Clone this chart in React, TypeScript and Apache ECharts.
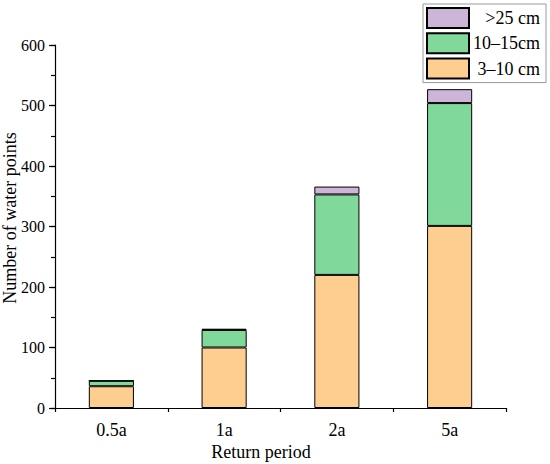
import * as echarts from "echarts";
import { useEffect, useRef } from "react";

const categories = ["0.5a", "1a", "2a", "5a"];
const small = [36, 100, 220, 301]; // 3–10 cm
const medium = [9, 29, 133, 203]; // 10–15cm
const large = [0, 2, 13, 23]; // >25 cm
const legendOrder = [">25 cm", "10–15cm", "3–10 cm"];
const yRange = { min: 0, max: 600 };
const yMajor = 100;
const yMinor = 50;

const FONT = "Liberation Serif";
const AX = { color: "#000", width: 1.2 };

export default function App() {
  const ref = useRef<HTMLDivElement>(null);

  useEffect(() => {
    if (!ref.current) return;
    const chart = echarts.init(ref.current, undefined, { renderer: "svg" });

    const bar = (name: string, data: number[], color: string) => ({
      name,
      type: "bar",
      stack: "total",
      barWidth: "40%",
      data,
      itemStyle: { color, borderColor: "#000", borderWidth: 1 },
    });

    chart.setOption({
      animation: false,
      backgroundColor: "#fff",
      textStyle: { fontFamily: FONT, color: "#000" },
      grid: { left: 55, right: 44, top: 45, bottom: 56 },
      legend: {
        data: legendOrder,
        orient: "vertical",
        left: 423,
        top: 4,
        itemWidth: 42,
        itemHeight: 20,
        itemGap: 3.3,
        padding: [3, 6, 3, 3],
        borderColor: "#999",
        borderWidth: 1,
        icon: "rect",
        formatter: (n: string) => `{r|${n}}`,
        textStyle: {
          fontFamily: FONT,
          fontSize: 18,
          color: "#000",
          rich: {
            r: { width: 66, align: "right", fontFamily: FONT, fontSize: 18, color: "#000" },
          },
        },
      },
      xAxis: [
        {
          type: "category",
          data: categories,
          axisLine: { lineStyle: AX },
          axisTick: { alignWithLabel: true, length: 6, lineStyle: AX },
          axisLabel: { color: "#000", fontSize: 18, fontFamily: FONT, margin: 13 },
        },
        {
          // short ticks at category boundaries
          type: "category",
          data: categories,
          position: "bottom",
          offset: 0,
          axisLine: { show: true, lineStyle: { color: "#000", opacity: 0 } },
          axisTick: { show: true, length: 4, lineStyle: AX },
          axisLabel: { show: false },
        },
      ],
      yAxis: [
        {
          type: "value",
          ...yRange,
          interval: yMajor,
          axisLine: { show: true, lineStyle: AX },
          axisTick: { show: true, inside: false, length: 6, lineStyle: AX },
          splitLine: { show: false },
          axisLabel: { color: "#000", fontSize: 16, fontFamily: FONT, margin: 10 },
        },
        {
          // minor ticks
          type: "value",
          ...yRange,
          interval: yMinor,
          position: "left",
          offset: 0,
          axisLine: { show: true, lineStyle: { color: "#000", opacity: 0 } },
          axisTick: { show: true, inside: false, length: 4, lineStyle: AX },
          splitLine: { show: false },
          axisLabel: { show: false },
        },
      ],
      graphic: [
        {
          type: "text",
          x: 261,
          y: 452,
          style: {
            text: "Return period",
            fontFamily: FONT,
            fontSize: 18,
            fill: "#000",
            align: "center",
            verticalAlign: "middle",
          },
        },
        {
          type: "text",
          x: 10,
          y: 218,
          rotation: Math.PI / 2,
          style: {
            text: "Number of water points",
            fontFamily: FONT,
            fontSize: 18,
            fill: "#000",
            align: "center",
            verticalAlign: "middle",
          },
        },
      ],
      series: [
        bar("3–10 cm", small, "#FECE91"),
        bar("10–15cm", medium, "#80D99B"),
        bar(">25 cm", large, "#CDB5DA"),
      ],
    });

    return () => chart.dispose();
  }, []);

  return (
    <div
      ref={ref}
      style={{ position: "fixed", left: 0, top: 0, width: 550, height: 464 }}
    />
  );
}
